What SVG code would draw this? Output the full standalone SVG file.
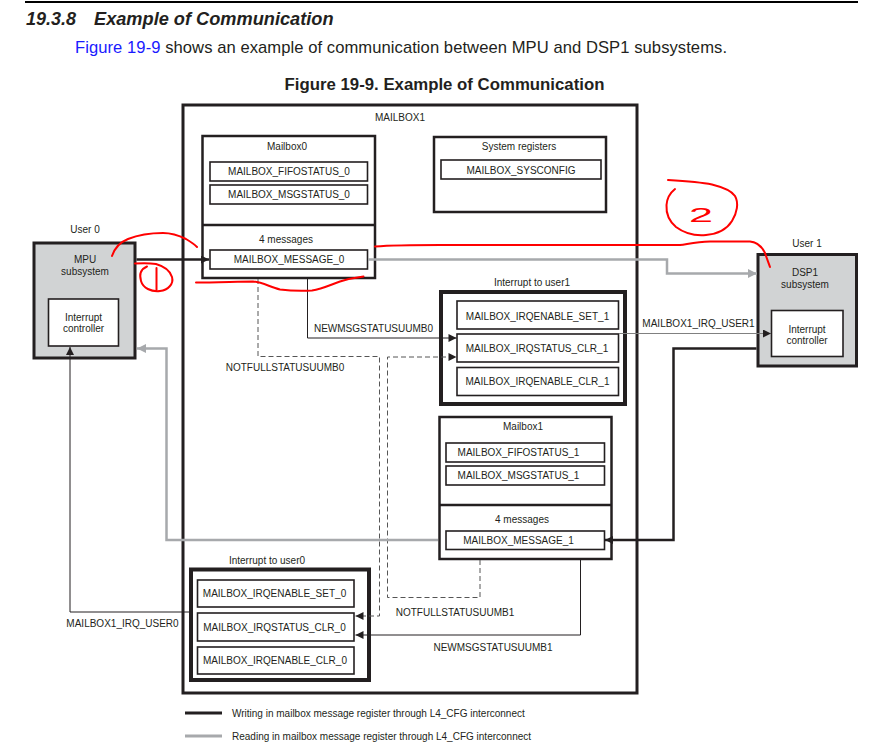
<svg xmlns="http://www.w3.org/2000/svg" width="869" height="754" viewBox="0 0 869 754">
<style>
text{font-family:"Liberation Sans",Arial,sans-serif;fill:#231f20}
.t{font-size:10px;text-anchor:middle}
.tl{font-size:10px}
.box{fill:#fff;stroke:#231f20;stroke-width:2.5}
.reg{fill:#fff;stroke:#231f20;stroke-width:1.6}
.irq{fill:#fff;stroke:#231f20;stroke-width:4}
.sub{fill:#d1d3d4;stroke:#231f20;stroke-width:3}
.outer{fill:#fff;stroke:#231f20;stroke-width:3}
.thin{fill:none;stroke:#231f20;stroke-width:1}
.thing{fill:none;stroke:#808080;stroke-width:1}
.dash{fill:none;stroke:#555;stroke-width:1;stroke-dasharray:5 3}
.gr{fill:none;stroke:#a7a9ac;stroke-width:2.5}
.bk{fill:none;stroke:#231f20;stroke-width:2.5}
.red{fill:none;stroke:#f00;stroke-width:2;stroke-linecap:round;stroke-linejoin:round}
</style>
<defs>
<marker id="ab" viewBox="0 0 10 10" refX="10" refY="5" markerUnits="userSpaceOnUse" markerWidth="9" markerHeight="8" orient="auto">
<path d="M0,0 L10,5 L0,10 z" fill="#231f20"/>
</marker>
<marker id="ag" viewBox="0 0 10 10" refX="10" refY="5" markerUnits="userSpaceOnUse" markerWidth="10" markerHeight="9" orient="auto">
<path d="M0,0 L10,5 L0,10 z" fill="#a7a9ac"/>
</marker>
</defs>

<rect width="869" height="754" fill="#fff"/>

<g id="header">
<line x1="25" y1="2" x2="858" y2="2" stroke="#000" stroke-width="2"/>
<text x="26" y="25" font-size="18" font-weight="bold" font-style="italic">19.3.8</text>
<text x="94" y="25" font-size="18.2" font-weight="bold" font-style="italic">Example of Communication</text>
<text x="75" y="53" font-size="16.6" textLength="652" lengthAdjust="spacing"><tspan fill="#1a1aff">Figure 19-9</tspan> shows an example of communication between MPU and DSP1 subsystems.</text>
<text x="444.5" y="90" font-size="16.8" font-weight="bold" text-anchor="middle">Figure 19-9. Example of Communication</text>
</g>

<g id="mailbox1">
<rect class="outer" x="183" y="105" width="454" height="588"/>
<text class="t" x="400" y="120.5">MAILBOX1</text>
</g>

<g id="mailbox0">
<rect class="box" x="202.5" y="136" width="172.5" height="142"/>
<line x1="202.5" y1="225" x2="375" y2="225" stroke="#231f20" stroke-width="2.5"/>
<text class="t" x="287" y="149.5">Mailbox0</text>
<rect class="reg" x="210" y="162" width="157.5" height="19"/>
<text class="t" x="289" y="175">MAILBOX_FIFOSTATUS_0</text>
<rect class="reg" x="210" y="185" width="157.5" height="19"/>
<text class="t" x="289" y="198">MAILBOX_MSGSTATUS_0</text>
<text class="t" x="286" y="243" font-size="9.5">4 messages</text>
<rect class="reg" x="210" y="250" width="157.5" height="19"/>
<text class="t" x="289" y="263">MAILBOX_MESSAGE_0</text>
</g>

<g id="sysregs">
<rect class="box" x="434" y="137" width="172" height="75"/>
<text class="t" x="519" y="150">System registers</text>
<rect class="reg" x="441" y="160" width="160" height="19"/>
<text class="t" x="521" y="173.5">MAILBOX_SYSCONFIG</text>
</g>

<g id="mpu">
<text class="t" x="85" y="232.5">User 0</text>
<rect class="sub" x="34" y="243" width="101" height="115"/>
<text class="t" x="85" y="262.5">MPU</text>
<text class="t" x="85" y="275">subsystem</text>
<rect class="reg" x="48.5" y="299" width="70" height="47"/>
<text class="t" x="83.5" y="320.5">Interrupt</text>
<text class="t" x="83.5" y="332">controller</text>
</g>

<g id="dsp1">
<text class="t" x="807" y="246.5">User 1</text>
<rect class="sub" x="758" y="254.5" width="98.5" height="111.5"/>
<text class="t" x="805" y="276">DSP1</text>
<text class="t" x="805" y="287.5">subsystem</text>
<rect class="reg" x="771.5" y="310.5" width="71.5" height="46"/>
<text class="t" x="807" y="332.5">Interrupt</text>
<text class="t" x="807" y="344">controller</text>
</g>

<g id="irq-user1">
<text class="t" x="532" y="286">Interrupt to user1</text>
<rect class="irq" x="441" y="292" width="184" height="112"/>
<rect class="reg" x="457" y="301" width="161.5" height="28"/>
<text class="t" x="537.5" y="319.5">MAILBOX_IRQENABLE_SET_1</text>
<rect class="reg" x="457" y="334" width="161.5" height="28"/>
<text class="t" x="537" y="351.5">MAILBOX_IRQSTATUS_CLR_1</text>
<rect class="reg" x="457" y="367.5" width="161.5" height="28"/>
<text class="t" x="537.5" y="385">MAILBOX_IRQENABLE_CLR_1</text>
</g>

<g id="mailbox1-fifo">
<rect class="box" x="439.5" y="417" width="172" height="142"/>
<line x1="439.5" y1="505" x2="611.5" y2="505" stroke="#231f20" stroke-width="2.5"/>
<text class="t" x="523" y="430">Mailbox1</text>
<rect class="reg" x="446" y="443" width="158.5" height="19"/>
<text class="t" x="518.5" y="456">MAILBOX_FIFOSTATUS_1</text>
<rect class="reg" x="446" y="466" width="158.5" height="19"/>
<text class="t" x="518.5" y="479">MAILBOX_MSGSTATUS_1</text>
<text class="t" x="522" y="522.5" font-size="9.5">4 messages</text>
<rect class="reg" x="446" y="531" width="158.5" height="18.5"/>
<text class="t" x="518.5" y="543.5">MAILBOX_MESSAGE_1</text>
</g>

<g id="irq-user0">
<text class="t" x="267" y="564">Interrupt to user0</text>
<rect class="irq" x="191" y="569.5" width="178" height="110.5"/>
<rect class="reg" x="197.5" y="580" width="156.5" height="27"/>
<text class="t" x="274.5" y="596.5">MAILBOX_IRQENABLE_SET_0</text>
<rect class="reg" x="197.5" y="613" width="156.5" height="28"/>
<text class="t" x="274.5" y="630.5">MAILBOX_IRQSTATUS_CLR_0</text>
<rect class="reg" x="197.5" y="647" width="156.5" height="27"/>
<text class="t" x="275" y="664">MAILBOX_IRQENABLE_CLR_0</text>
</g>

<g id="connectors">
<path class="bk" d="M136.5,259.5 H209" marker-end="url(#ab)"/>
<path class="gr" d="M368,259.5 H667 V273.5 H757" marker-end="url(#ag)"/>
<path class="thin" d="M307.5,279 V338 H456.5" marker-end="url(#ab)"/>
<path class="dash" d="M258,279 V356.5 H379.5 V616 H355.5" marker-end="url(#ab)"/>
<path class="dash" d="M480,560 V597.5 H387.5 V357 H456.5" marker-end="url(#ab)"/>
<path class="thin" d="M580.5,560 V635 H355.5" marker-end="url(#ab)"/>
<path class="thing" d="M619,333.5 H771" marker-end="url(#ab)"/>
<path class="bk" d="M756.5,348.5 H673.5 V540 H605" marker-end="url(#ab)"/>
<path class="gr" d="M438,540 H166.5 V348.5 H137" marker-end="url(#ag)"/>
<path class="thin" d="M189,612 H70 V347" marker-end="url(#ab)"/>
</g>

<g id="labels">
<text class="t" x="373.5" y="331.5">NEWMSGSTATUSUUMB0</text>
<text class="t" x="285" y="370.5">NOTFULLSTATUSUUMB0</text>
<text class="t" x="698.5" y="326.5">MAILBOX1_IRQ_USER1</text>
<text class="t" x="455" y="615.5">NOTFULLSTATUSUUMB1</text>
<text class="t" x="493" y="650.5">NEWMSGSTATUSUUMB1</text>
<text class="t" x="122.5" y="626.5">MAILBOX1_IRQ_USER0</text>
</g>

<g id="legend">
<line x1="185" y1="713" x2="222" y2="713" stroke="#231f20" stroke-width="3"/>
<text class="tl" x="232" y="716.5">Writing in mailbox message register through L4_CFG interconnect</text>
<line x1="185" y1="736" x2="222" y2="736" stroke="#a7a9ac" stroke-width="3"/>
<text class="tl" x="232" y="739.5">Reading in mailbox message register through L4_CFG interconnect</text>
</g>

<g id="annotations">
<path class="red" d="M112,256 C114,250 118,243 128,239 C138,235 150,233 163,233 C172,233 180,236 186,239 C191,242 195,245 197,247"/>
<path class="red" d="M135,263.5 C142,263 150,263 156,264 C163,266 170,270 172,277 C174,284 168,290 160,291 C151,292 143,288 141,281 C139,274 141,269 147,266.5"/>
<line class="red" x1="156.5" y1="268" x2="156.5" y2="290"/>
<path class="red" d="M196,282.5 C215,282.5 240,281.5 253,281.5 C262,282 270,287 280,289.5 C292,291 303,291 312,290.5 C322,289 330,285 340,281.5 C348,279 356,277.5 363.5,276.5"/>
<path class="red" d="M375,246.5 C395,245 420,245 440,245 L680,245 C688,244 696,242 710,241.5 L750,241.5 C758,242 762,247 765,253 C767,259 769,264 770,267"/>
<path class="red" d="M668,180 C685,181 700,182 712,184.5 C722,187 731,190 735,196 C739,203 737,213 732,221 C727,229 717,234 706,235 C695,236 684,233 676,227 C669,221 666,213 666.5,205 C667,198 670,193 675,189"/>
<text x="689" y="221.5" font-size="20" textLength="24" lengthAdjust="spacingAndGlyphs" style="fill:#f00">2</text>
</g>
</svg>
